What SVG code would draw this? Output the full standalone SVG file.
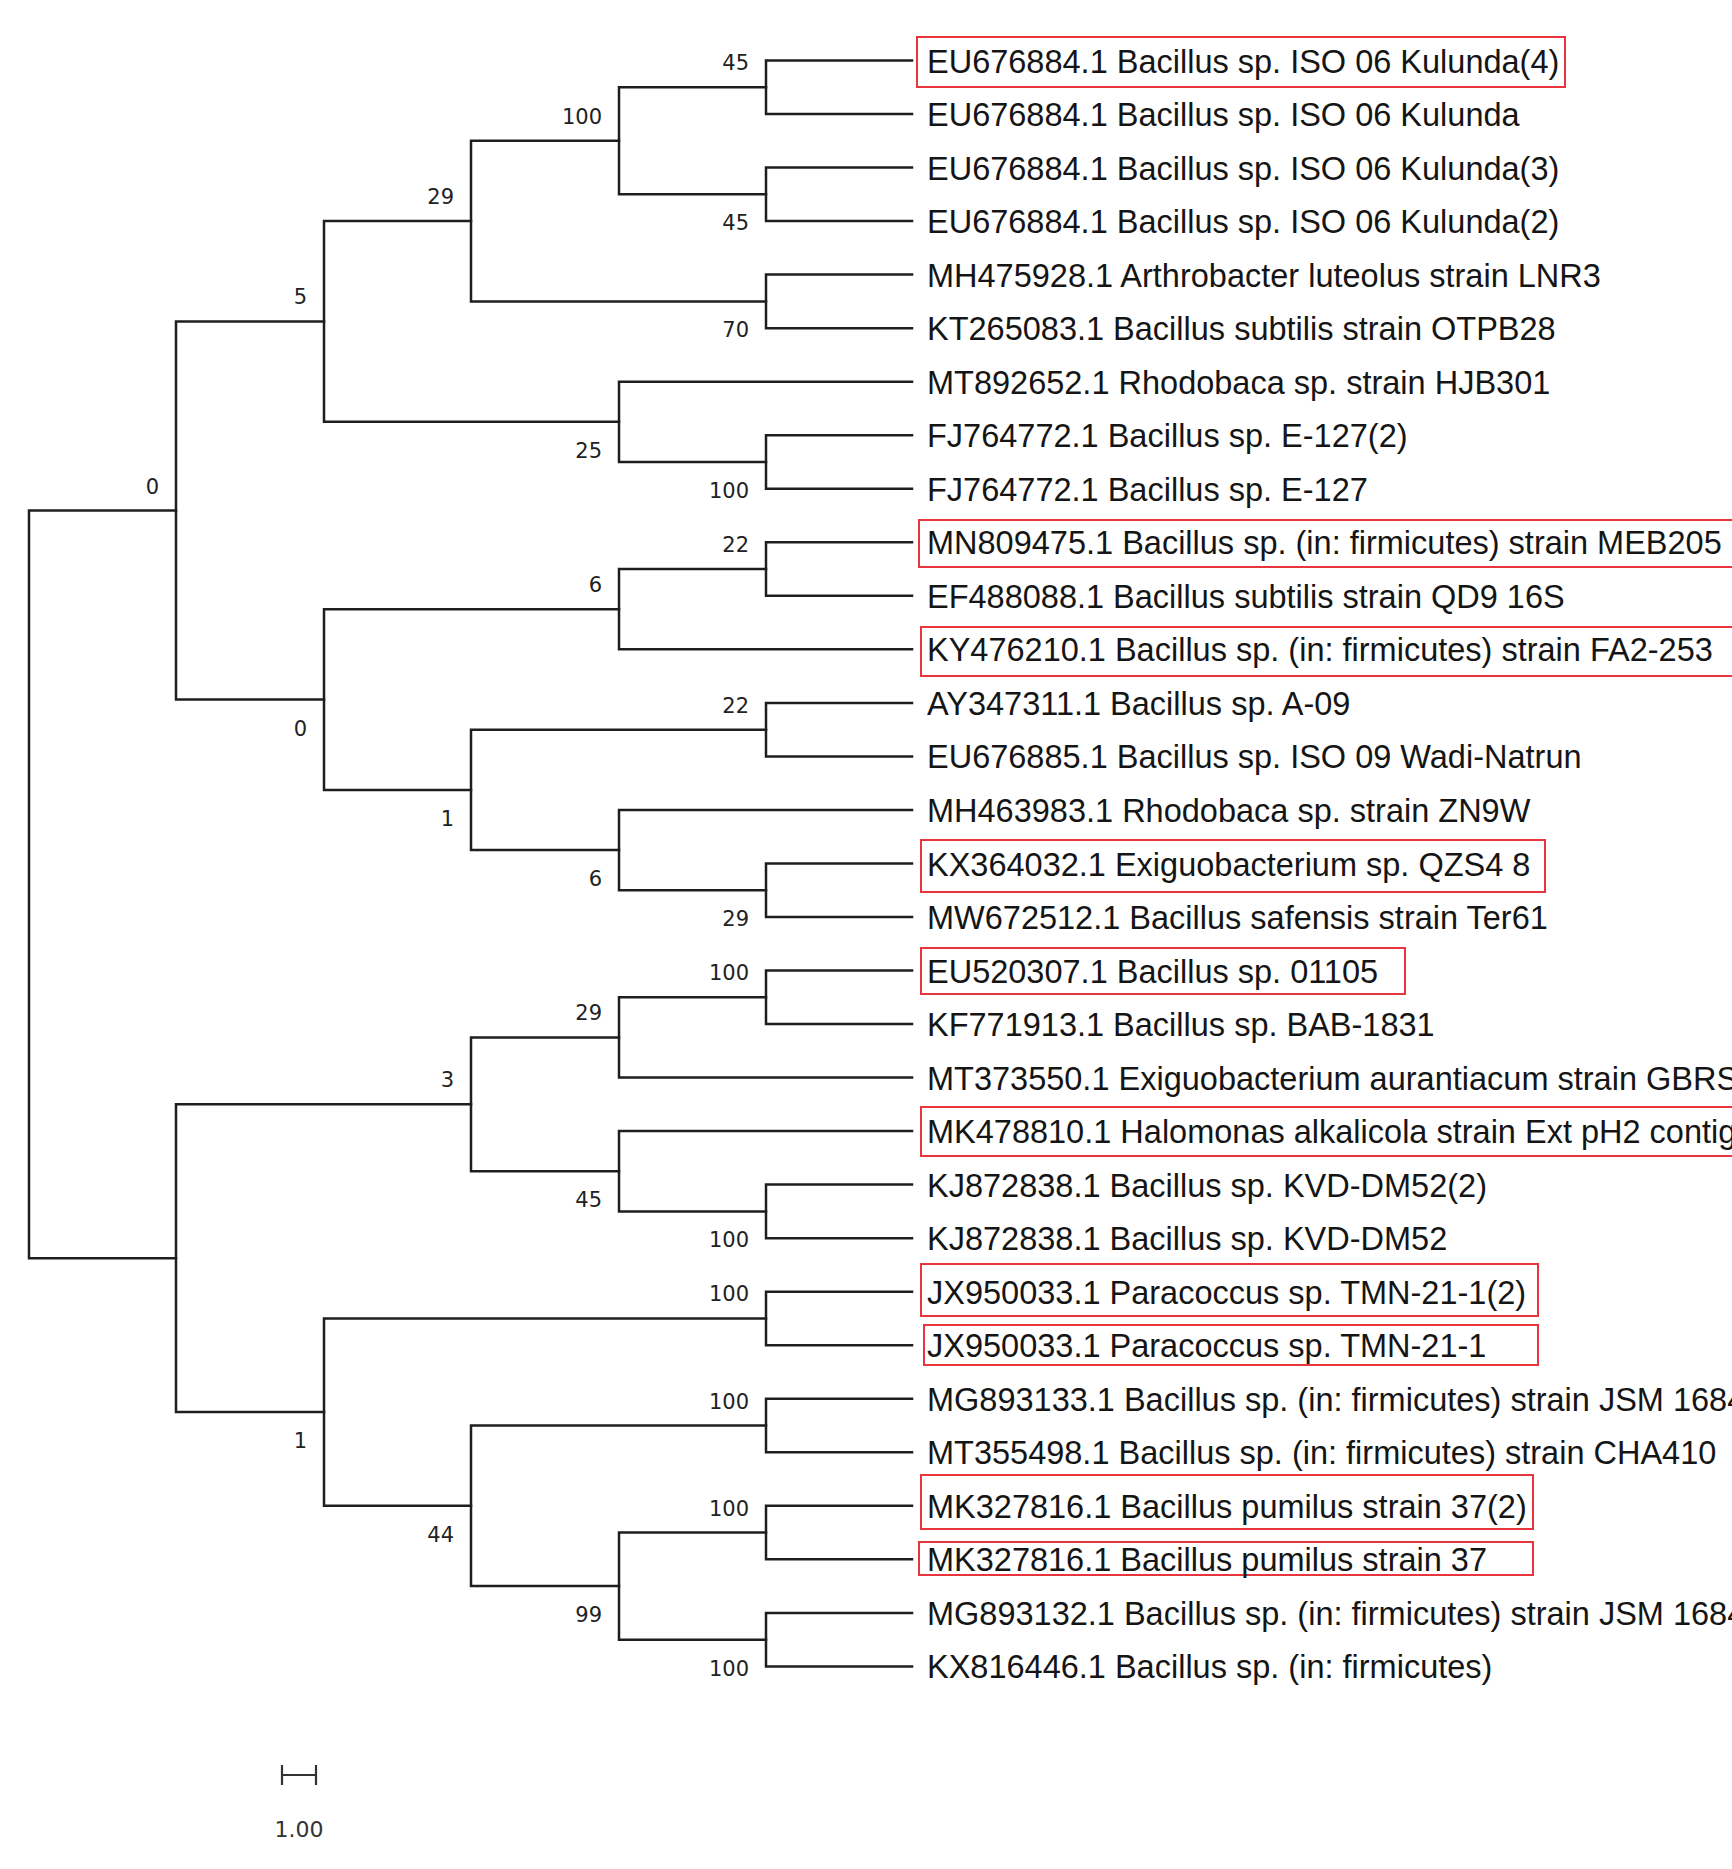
<svg xmlns="http://www.w3.org/2000/svg" width="1732" height="1869" viewBox="0 0 1732 1869">
<style>
.br{fill:none;stroke:#1e1e1e;stroke-width:2.5;stroke-linecap:square}
.lf{font-family:"Liberation Sans",Arial,sans-serif;font-size:32.5px;fill:#151515}
.bs{font-family:"DejaVu Sans",Verdana,sans-serif;font-size:21px;fill:#222;text-anchor:end}
.hl{fill:none;stroke:#e8343c;stroke-width:2}
</style>
<rect width="1732" height="1869" fill="#fff"/>
<g id="connectors">
<path class="br" d="M912,60.5 H766 V114 H912"/>
<path class="br" d="M912,167.6 H766 V221.1 H912"/>
<path class="br" d="M766,87.25 H619 V194.35 H766"/>
<path class="br" d="M912,274.6 H766 V328.2 H912"/>
<path class="br" d="M619,140.8 H471 V301.4 H766"/>
<path class="br" d="M912,435.2 H766 V488.7 H912"/>
<path class="br" d="M912,381.7 H619 V461.95 H766"/>
<path class="br" d="M471,221.1 H324 V421.8 H619"/>
<path class="br" d="M912,542.3 H766 V595.8 H912"/>
<path class="br" d="M766,569.05 H619 V649.3 H912"/>
<path class="br" d="M912,702.9 H766 V756.4 H912"/>
<path class="br" d="M912,863.5 H766 V917 H912"/>
<path class="br" d="M912,809.9 H619 V890.25 H766"/>
<path class="br" d="M766,729.65 H471 V850.1 H619"/>
<path class="br" d="M619,609.2 H324 V789.9 H471"/>
<path class="br" d="M324,321.45 H176 V699.55 H324"/>
<path class="br" d="M912,970.5 H766 V1024 H912"/>
<path class="br" d="M766,997.25 H619 V1077.6 H912"/>
<path class="br" d="M912,1184.6 H766 V1238.2 H912"/>
<path class="br" d="M912,1131.1 H619 V1211.4 H766"/>
<path class="br" d="M619,1037.4 H471 V1171.25 H619"/>
<path class="br" d="M912,1291.7 H766 V1345.2 H912"/>
<path class="br" d="M912,1398.8 H766 V1452.3 H912"/>
<path class="br" d="M912,1505.8 H766 V1559.3 H912"/>
<path class="br" d="M912,1612.9 H766 V1666.4 H912"/>
<path class="br" d="M766,1532.55 H619 V1639.65 H766"/>
<path class="br" d="M766,1425.55 H471 V1586.1 H619"/>
<path class="br" d="M766,1318.45 H324 V1505.8 H471"/>
<path class="br" d="M471,1104.3 H176 V1412.1 H324"/>
<path class="br" d="M176,510.5 H29 V1258.2 H176"/>
</g>
<g id="bootstrap">
<g id="n-A"><text class="bs" x="749" y="70">45</text></g>
<g id="n-B"><text class="bs" x="749" y="230">45</text></g>
<g id="n-C"><text class="bs" x="602" y="124">100</text></g>
<g id="n-D"><text class="bs" x="749" y="337">70</text></g>
<g id="n-E"><text class="bs" x="454" y="204">29</text></g>
<g id="n-F"><text class="bs" x="749" y="498">100</text></g>
<g id="n-G"><text class="bs" x="602" y="458">25</text></g>
<g id="n-H"><text class="bs" x="307" y="304">5</text></g>
<g id="n-I"><text class="bs" x="749" y="552">22</text></g>
<g id="n-J"><text class="bs" x="602" y="592">6</text></g>
<g id="n-K"><text class="bs" x="749" y="713">22</text></g>
<g id="n-L"><text class="bs" x="749" y="926">29</text></g>
<g id="n-M"><text class="bs" x="602" y="886">6</text></g>
<g id="n-N"><text class="bs" x="454" y="826">1</text></g>
<g id="n-O"><text class="bs" x="307" y="736">0</text></g>
<g id="n-P"><text class="bs" x="159" y="494">0</text></g>
<g id="n-Q"><text class="bs" x="749" y="980">100</text></g>
<g id="n-R"><text class="bs" x="602" y="1020">29</text></g>
<g id="n-S"><text class="bs" x="749" y="1247">100</text></g>
<g id="n-T"><text class="bs" x="602" y="1207">45</text></g>
<g id="n-U"><text class="bs" x="454" y="1087">3</text></g>
<g id="n-V"><text class="bs" x="749" y="1301">100</text></g>
<g id="n-W"><text class="bs" x="749" y="1409">100</text></g>
<g id="n-X"><text class="bs" x="749" y="1516">100</text></g>
<g id="n-Y"><text class="bs" x="749" y="1676">100</text></g>
<g id="n-Z"><text class="bs" x="602" y="1622">99</text></g>
<g id="n-AA"><text class="bs" x="454" y="1542">44</text></g>
<g id="n-AB"><text class="bs" x="307" y="1448">1</text></g>
</g>
<g id="leaves">
<g id="leaf0"><rect class="hl" x="917" y="37" width="648" height="50"/><text class="lf" x="927" y="72.5">EU676884.1 Bacillus sp. ISO 06 Kulunda(4)</text></g>
<g id="leaf1"><text class="lf" x="927" y="126">EU676884.1 Bacillus sp. ISO 06 Kulunda</text></g>
<g id="leaf2"><text class="lf" x="927" y="179.6">EU676884.1 Bacillus sp. ISO 06 Kulunda(3)</text></g>
<g id="leaf3"><text class="lf" x="927" y="233.1">EU676884.1 Bacillus sp. ISO 06 Kulunda(2)</text></g>
<g id="leaf4"><text class="lf" x="927" y="286.6">MH475928.1 Arthrobacter luteolus strain LNR3</text></g>
<g id="leaf5"><text class="lf" x="927" y="340.2">KT265083.1 Bacillus subtilis strain OTPB28</text></g>
<g id="leaf6"><text class="lf" x="927" y="393.7">MT892652.1 Rhodobaca sp. strain HJB301</text></g>
<g id="leaf7"><text class="lf" x="927" y="447.2">FJ764772.1 Bacillus sp. E-127(2)</text></g>
<g id="leaf8"><text class="lf" x="927" y="500.7">FJ764772.1 Bacillus sp. E-127</text></g>
<g id="leaf9"><rect class="hl" x="919" y="520" width="830" height="47"/><text class="lf" x="927" y="554.3">MN809475.1 Bacillus sp. (in: firmicutes) strain MEB205</text></g>
<g id="leaf10"><text class="lf" x="927" y="607.8">EF488088.1 Bacillus subtilis strain QD9 16S</text></g>
<g id="leaf11"><rect class="hl" x="921" y="627" width="830" height="49"/><text class="lf" x="927" y="661.3">KY476210.1 Bacillus sp. (in: firmicutes) strain FA2-253</text></g>
<g id="leaf12"><text class="lf" x="927" y="714.9">AY347311.1 Bacillus sp. A-09</text></g>
<g id="leaf13"><text class="lf" x="927" y="768.4">EU676885.1 Bacillus sp. ISO 09 Wadi-Natrun</text></g>
<g id="leaf14"><text class="lf" x="927" y="821.9">MH463983.1 Rhodobaca sp. strain ZN9W</text></g>
<g id="leaf15"><rect class="hl" x="921" y="840" width="624" height="52"/><text class="lf" x="927" y="875.5">KX364032.1 Exiguobacterium sp. QZS4 8</text></g>
<g id="leaf16"><text class="lf" x="927" y="929">MW672512.1 Bacillus safensis strain Ter61</text></g>
<g id="leaf17"><rect class="hl" x="921" y="948" width="484" height="46"/><text class="lf" x="927" y="982.5">EU520307.1 Bacillus sp. 01105</text></g>
<g id="leaf18"><text class="lf" x="927" y="1036">KF771913.1 Bacillus sp. BAB-1831</text></g>
<g id="leaf19"><text class="lf" x="927" y="1089.6">MT373550.1 Exiguobacterium aurantiacum strain GBRS</text></g>
<g id="leaf20"><rect class="hl" x="921" y="1107" width="830" height="49"/><text class="lf" x="927" y="1143.1">MK478810.1 Halomonas alkalicola strain Ext pH2 contig</text></g>
<g id="leaf21"><text class="lf" x="927" y="1196.6">KJ872838.1 Bacillus sp. KVD-DM52(2)</text></g>
<g id="leaf22"><text class="lf" x="927" y="1250.2">KJ872838.1 Bacillus sp. KVD-DM52</text></g>
<g id="leaf23"><rect class="hl" x="921" y="1264" width="617" height="52"/><text class="lf" x="927" y="1303.7">JX950033.1 Paracoccus sp. TMN-21-1(2)</text></g>
<g id="leaf24"><rect class="hl" x="924" y="1325" width="614" height="40"/><text class="lf" x="927" y="1357.2">JX950033.1 Paracoccus sp. TMN-21-1</text></g>
<g id="leaf25"><text class="lf" x="927" y="1410.8">MG893133.1 Bacillus sp. (in: firmicutes) strain JSM 1684</text></g>
<g id="leaf26"><text class="lf" x="927" y="1464.3">MT355498.1 Bacillus sp. (in: firmicutes) strain CHA410</text></g>
<g id="leaf27"><rect class="hl" x="921" y="1475" width="612" height="54"/><text class="lf" x="927" y="1517.8">MK327816.1 Bacillus pumilus strain 37(2)</text></g>
<g id="leaf28"><rect class="hl" x="919" y="1542" width="614" height="33"/><text class="lf" x="927" y="1571.3">MK327816.1 Bacillus pumilus strain 37</text></g>
<g id="leaf29"><text class="lf" x="927" y="1624.9">MG893132.1 Bacillus sp. (in: firmicutes) strain JSM 1684</text></g>
<g id="leaf30"><text class="lf" x="927" y="1678.4">KX816446.1 Bacillus sp. (in: firmicutes)</text></g>
</g>
<g id="scalebar">
<path class="br" d="M282,1775 H316 M282,1766 V1784 M316,1766 V1784" style="stroke-width:2.2;stroke:#333"/>
<text x="299" y="1837" style="font-family:'DejaVu Sans',Verdana,sans-serif;font-size:22px;fill:#333;text-anchor:middle">1.00</text>
</g>
</svg>
